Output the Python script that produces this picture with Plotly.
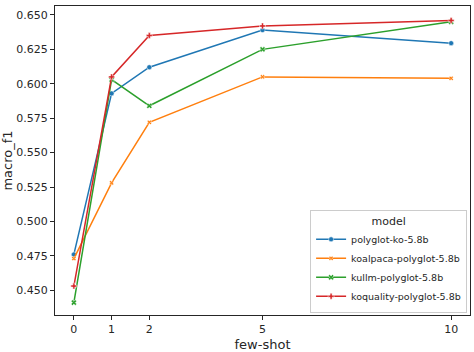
import plotly.graph_objects as go

shots = [0, 1, 2, 5, 10]
models = ["polyglot-ko-5.8b", "koalpaca-polyglot-5.8b", "kullm-polyglot-5.8b", "koquality-polyglot-5.8b"]
polyglot_ko = [0.476, 0.593, 0.612, 0.639, 0.6295]
koalpaca = [0.473, 0.528, 0.572, 0.605, 0.604]
kullm = [0.441, 0.603, 0.584, 0.625, 0.645]
koquality = [0.453, 0.605, 0.635, 0.642, 0.646]
series = [polyglot_ko, koalpaca, kullm, koquality]
colors = ["#1f77b4", "#ff7f0e", "#2ca02c", "#d62728"]
symbols = ["circle", "x", "x", "cross"]
sizes = [5, 4, 5, 5]

yticks = [0.450, 0.475, 0.500, 0.525, 0.550, 0.575, 0.600, 0.625, 0.650]

fig = go.Figure()
for name, vals, c, s, sz in zip(models, series, colors, symbols, sizes):
    fig.add_trace(go.Scatter(x=shots, y=vals, name=name, mode="lines+markers",
                             line=dict(color=c, width=1.5),
                             marker=dict(symbol=s, size=sz, color=c, line=dict(width=0.5, color="white"))))

fig.update_layout(
    width=474, height=352,
    margin=dict(l=54, r=3, t=6, b=34),
    paper_bgcolor="white", plot_bgcolor="white",
    font=dict(family="DejaVu Sans", size=11, color="#262626"),
    showlegend=True,
    legend=dict(title=dict(text="model", side="top center", font=dict(size=11)),
                x=0.993, y=0.008, xanchor="right", yanchor="bottom",
                bgcolor="rgba(255,255,255,0.8)", bordercolor="#cccccc", borderwidth=1,
                font=dict(size=9.5), itemwidth=30, tracegroupgap=0),
)
fig.update_xaxes(range=[-0.5, 10.5], tickvals=shots, ticktext=[str(v) for v in shots],
                 showgrid=False, zeroline=False, showline=True, linecolor="#262626", linewidth=1.2,
                 mirror=True, ticks="outside", ticklen=4, tickcolor="#262626",
                 title=dict(text="few-shot", standoff=4))
fig.update_yaxes(range=[0.432, 0.6565], tickvals=yticks, ticktext=["%.3f" % v for v in yticks],
                 showgrid=False, zeroline=False, showline=True, linecolor="#262626", linewidth=1.2,
                 mirror=True, ticks="outside", ticklen=4, tickcolor="#262626",
                 title=dict(text="macro_f1", standoff=4))

fig.write_html("out.html")
